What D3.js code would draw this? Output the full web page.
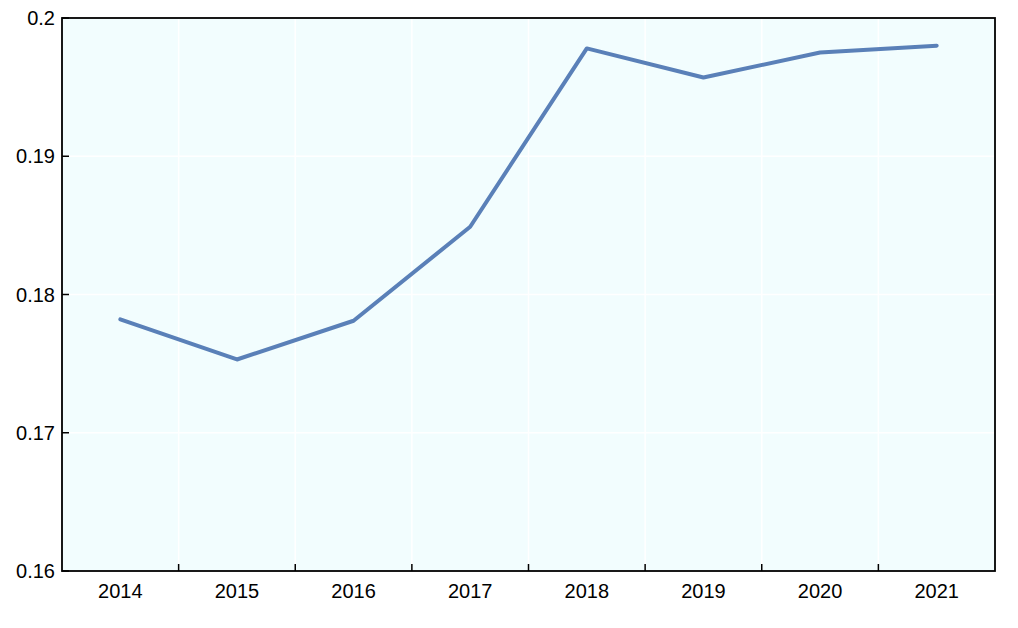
<!DOCTYPE html><html><head><meta charset="utf-8">
<script src="https://cdn.jsdelivr.net/npm/d3@7"></script>
<style>body{margin:0;background:#fff}</style></head><body>
<svg id="c" width="1018" height="628"></svg>
<script>
const years=["2014","2015","2016","2017","2018","2019","2020","2021"];
const values=[0.1782,0.1753,0.1781,0.1849,0.1978,0.1957,0.1975,0.1980];
const yTicks=[0.16,0.17,0.18,0.19,0.2];
const L=62,R=995,T=18,B=571;
const svg=d3.select("#c");
const x=d3.scaleBand().domain(years).range([L,R]);
const y=d3.scaleLinear().domain([0.16,0.2]).range([B,T]);
svg.append("rect").attr("x",L).attr("y",T).attr("width",R-L).attr("height",B-T).attr("fill","#f2fdfe");
const g=svg.append("g");
years.slice(1).forEach(d=>g.append("line").attr("x1",x(d)).attr("x2",x(d)).attr("y1",T).attr("y2",B).attr("stroke","#fff").attr("stroke-width",1.5));
yTicks.forEach(v=>g.append("line").attr("x1",L).attr("x2",R).attr("y1",y(v)).attr("y2",y(v)).attr("stroke","#fff").attr("stroke-width",1.5));
svg.append("rect").attr("x",L).attr("y",T).attr("width",R-L).attr("height",B-T).attr("fill","none").attr("stroke","#000").attr("stroke-width",1.8);
years.slice(1).forEach(d=>svg.append("line").attr("x1",x(d)).attr("x2",x(d)).attr("y1",B).attr("y2",B-7).attr("stroke","#000").attr("stroke-width",1.5));
yTicks.forEach(v=>svg.append("line").attr("x1",L).attr("x2",L+7).attr("y1",y(v)).attr("y2",y(v)).attr("stroke","#000").attr("stroke-width",1.5));
const font="'Liberation Sans Narrow', 'Arial Narrow', 'Liberation Sans', sans-serif";
years.forEach(d=>svg.append("text").attr("x",x(d)+x.bandwidth()/2).attr("y",B+27).attr("text-anchor","middle").attr("font-family",font).attr("font-size",20).text(d));
yTicks.forEach(v=>svg.append("text").attr("x",L-7).attr("y",y(v)+7).attr("text-anchor","end").attr("font-family",font).attr("font-size",20).text(d3.format("")(+v.toFixed(2))));
svg.append("path").datum(values).attr("fill","none").attr("stroke","#5a80b8").attr("stroke-width",4).attr("stroke-linejoin","round").attr("stroke-linecap","round")
 .attr("d",d3.line().x((d,i)=>x(years[i])+x.bandwidth()/2).y(d=>y(d)));
</script></body></html>
